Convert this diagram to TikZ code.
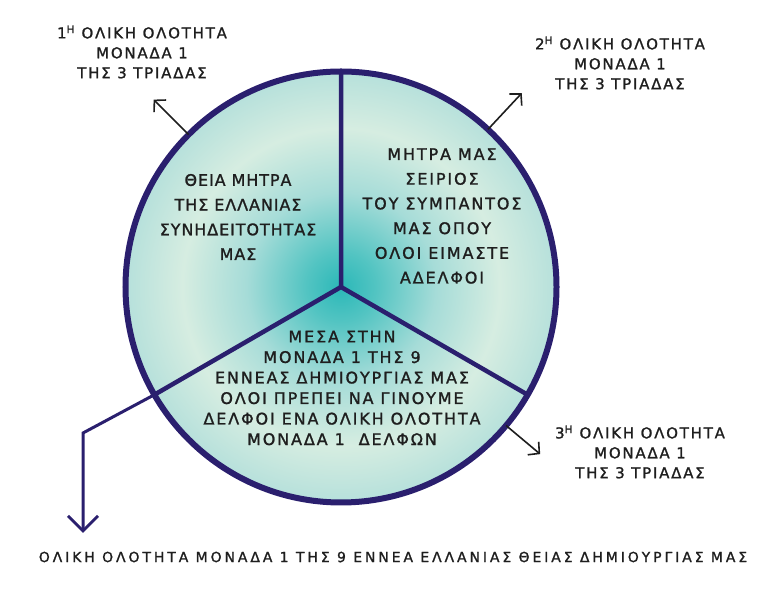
\documentclass[tikz,border=0pt]{standalone}
\usepackage{fontspec}
\setmainfont{DejaVu Sans}[LetterSpace=12,FakeBold=1.4]
\newfontfamily\tightfont{DejaVu Sans}[LetterSpace=6,FakeBold=1.4]
\newfontfamily\basefont{DejaVu Sans}[LetterSpace=21,FakeBold=1.4]
\usetikzlibrary{arrows.meta}
\usetikzlibrary{calc}

\definecolor{navy}{HTML}{2A1F6E}
\definecolor{ink}{HTML}{1E1E1E}
\definecolor{tcore}{HTML}{2BB8B8}
\definecolor{tinner}{HTML}{52C4C2}
\definecolor{tlight}{HTML}{A6DCD8}
\definecolor{tpale}{HTML}{D6EDE1}
\definecolor{tmid}{HTML}{B0DEDA}
\definecolor{trim}{HTML}{88D0D0}
\definecolor{tedge}{HTML}{36AEB8}
% the disc rim sits at 35.4bp of the shading
\pgfdeclareradialshading{discshade}{\pgfpoint{0bp}{0bp}}{color(0bp)=(tcore);color(4bp)=(tinner);color(11bp)=(tlight);color(18.4bp)=(tpale);color(26.2bp)=(tmid);color(32.5bp)=(trim);color(35.4bp)=(tedge);color(50bp)=(tedge)}

\begin{document}
\begin{tikzpicture}[x=1bp,y=1bp,
	sidetext/.style={align=center,text=ink,inner sep=0pt,font=\fontsize{15}{20}\selectfont},
	sectortext/.style={align=center,text=ink,inner sep=0pt,font=\fontsize{16}{24.8}\selectfont},
	lowtext/.style={align=center,text=ink,inner sep=0pt,font=\fontsize{16}{20.6}\selectfont},
	basetext/.style={text=ink,inner sep=0pt,font=\basefont\fontsize{14}{18}\selectfont},
	spoke/.style={navy,line width=4.5bp,line cap=round,line join=round},
	outarrow/.style={ink,line width=1.6bp,-{Straight Barb[length=8bp,width=17bp]}},
	downarrow/.style={navy,line width=3bp,line join=miter,-{Straight Barb[length=15bp,width=30bp]}}]
	\useasboundingbox (0,0) rectangle (779,591);
	\draw (341,304) node (disc) [circle,draw=navy,line width=6bp,outer sep=0pt,minimum size=431bp,shading=discshade] {};
	\draw[spoke] (disc.north) -- (disc.center) -- (disc.210);
	\draw[spoke] (disc.center) -- (disc.330);
	\draw (238,374) node (left) [sectortext,font=\tightfont\fontsize{16}{24.8}\selectfont] {ΘΕΙΑ ΜΗΤΡΑ\\ΤΗΣ ΕΛΛΑΝΙΑΣ\\ΣΥΝΗΔΕΙΤΟΤΗΤΑΣ\\ΜΑΣ};
	\draw (442,375) node (right) [sectortext] {ΜΗΤΡΑ ΜΑΣ\\ΣΕΙΡΙΟΣ\\ΤΟΥ ΣΥΜΠΑΝΤΟΣ\\ΜΑΣ ΟΠΟΥ\\ΟΛΟΙ ΕΙΜΑΣΤΕ\\ΑΔΕΛΦΟΙ};
	\draw (342,203) node (low) [lowtext] {ΜΕΣΑ ΣΤΗΝ\\ΜΟΝΑΔΑ 1 ΤΗΣ 9\\ΕΝΝΕΑΣ ΔΗΜΙΟΥΡΓΙΑΣ ΜΑΣ\\ΟΛΟΙ ΠΡΕΠΕΙ ΝΑ ΓΙΝΟΥΜΕ\\ΔΕΛΦΟΙ ΕΝΑ ΟΛΙΚΗ ΟΛΟΤΗΤΑ\\ΜΟΝΑΔΑ 1 ~ΔΕΛΦΩΝ};
	% the three wholes
	\draw (142,539) node (first) [sidetext] {1\textsuperscript{Η} ΟΛΙΚΗ ΟΛΟΤΗΤΑ\\ΜΟΝΑΔΑ 1\\ΤΗΣ 3 ΤΡΙΑΔΑΣ};
	\draw (620,528) node (second) [sidetext] {2\textsuperscript{Η} ΟΛΙΚΗ ΟΛΟΤΗΤΑ\\ΜΟΝΑΔΑ 1\\ΤΗΣ 3 ΤΡΙΑΔΑΣ};
	\draw (640,139) node (third) [sidetext] {3\textsuperscript{Η} ΟΛΙΚΗ ΟΛΟΤΗΤΑ\\ΜΟΝΑΔΑ 1\\ΤΗΣ 3 ΤΡΙΑΔΑΣ};
	\coordinate (tip1) at ($(disc.center)+(135:265)$);
	\coordinate (tip2) at ($(disc.center)+(47:265)$);
	\coordinate (tip3) at ($(disc.center)+(-40:260)$);
	\draw[outarrow] (disc.135) -- (tip1);
	\draw[outarrow] (disc.47) -- (tip2);
	\draw[outarrow] (disc.-40) -- (tip3);
	% down to the whole
	\coordinate (bend) at (83,158);
	\coordinate (tip4) at (83,58);
	\draw[downarrow] (disc.210) -- (bend) -- (tip4);
	\draw (393,34) node (base) [basetext] {ΟΛΙΚΗ ΟΛΟΤΗΤΑ ΜΟΝΑΔΑ 1 ΤΗΣ 9 ΕΝΝΕΑ ΕΛΛΑΝΙΑΣ ΘΕΙΑΣ ΔΗΜΙΟΥΡΓΙΑΣ ΜΑΣ};
\end{tikzpicture}
\end{document}
